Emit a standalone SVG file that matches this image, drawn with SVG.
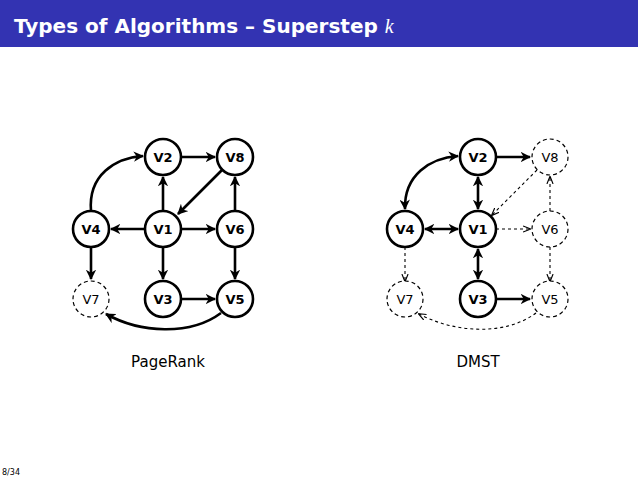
<svg xmlns="http://www.w3.org/2000/svg" width="638" height="479" viewBox="0 0 638 479">
<style>
.n circle{fill:#fff;stroke:#000;stroke-width:2.6}
.d circle{fill:#fff;stroke:#000;stroke-width:1.2;stroke-dasharray:4 3}
text{font-family:"DejaVu Sans",sans-serif}
.n text,.d text{font-size:13px;font-weight:bold;text-anchor:middle}
.d text{font-weight:normal}
.s{fill:none;stroke:#000;stroke-width:2.6;marker-end:url(#a)}
.b{marker-start:url(#as)}
.ds{fill:none;stroke:#000;stroke-width:1.1;stroke-dasharray:3 3;marker-end:url(#ad)}
</style>
<defs>
<marker id="a" viewBox="0 0 10 10" refX="9" refY="5" markerWidth="4" markerHeight="4" orient="auto" markerUnits="strokeWidth"><path d="M0,0 L10,5 L0,10 L3,5 Z"/></marker>
<marker id="as" viewBox="0 0 10 10" refX="1" refY="5" markerWidth="4" markerHeight="4" orient="auto" markerUnits="strokeWidth"><path d="M10,0 L0,5 L10,10 L7,5 Z"/></marker>
<marker id="ad" viewBox="0 0 10 10" refX="9" refY="5" markerWidth="7" markerHeight="7" orient="auto" markerUnits="strokeWidth"><path d="M0,1 L10,5 L0,9" fill="none" stroke="#000" stroke-width="1.5"/></marker>
</defs>
<rect x="0" y="0" width="638" height="47" fill="#3333b2"/>
<text x="14" y="33" fill="#fff" font-size="20" font-weight="bold">Types of Algorithms – Superstep <tspan font-family="'Liberation Serif',serif" font-style="italic" font-weight="normal">k</tspan></text>
<text x="2" y="475" font-size="8" font-family="'Liberation Serif',serif">8/34</text>
<g id="connectors">
<path class="s" d="M181,157 H215"/>
<path class="s" d="M222,170 L178,214"/>
<path class="s" d="M163,211 V177"/>
<path class="s" d="M145,229 H111"/>
<path class="s" d="M181,229 H215"/>
<path class="s" d="M163,247 V279"/>
<path class="s" d="M235,211 V177"/>
<path class="s" d="M235,247 V279"/>
<path class="s" d="M181,299 H215"/>
<path class="s" d="M91,247 V279"/>
<path class="s" d="M91,211 C88,175 115,158 143,156"/>
<path class="s" d="M221,313 C190,336 140,333 106,314"/>
<path class="s b" d="M478,177 V209"/>
<path class="s b" d="M425,229 H458"/>
<path class="s b" d="M478,249 V279"/>
<path class="s" d="M496,157 H530"/>
<path class="s" d="M496,299 H530"/>
<path class="s b" d="M458,156 C430,158 404,175 405,209"/>
<path class="ds" d="M537,170 L492,215"/>
<path class="ds" d="M496,229 H530"/>
<path class="ds" d="M550,211 V177"/>
<path class="ds" d="M550,247 V281"/>
<path class="ds" d="M405,247 V281"/>
<path class="ds" d="M536,313 C505,336 455,333 419,314"/>
</g>
<g id="V2" class="n"><circle cx="163" cy="157" r="18"/><text x="163" y="162">V2</text></g>
<g id="V8" class="n"><circle cx="235" cy="157" r="18"/><text x="235" y="162">V8</text></g>
<g id="V4" class="n"><circle cx="91" cy="229" r="18"/><text x="91" y="234">V4</text></g>
<g id="V1" class="n"><circle cx="163" cy="229" r="18"/><text x="163" y="234">V1</text></g>
<g id="V6" class="n"><circle cx="235" cy="229" r="18"/><text x="235" y="234">V6</text></g>
<g id="V7" class="d"><circle cx="91" cy="299" r="18"/><text x="91" y="304">V7</text></g>
<g id="V3" class="n"><circle cx="163" cy="299" r="18"/><text x="163" y="304">V3</text></g>
<g id="V5" class="n"><circle cx="235" cy="299" r="18"/><text x="235" y="304">V5</text></g>
<g id="D_V2" class="n"><circle cx="478" cy="157" r="18"/><text x="478" y="162">V2</text></g>
<g id="D_V8" class="d"><circle cx="550" cy="157" r="18"/><text x="550" y="162">V8</text></g>
<g id="D_V4" class="n"><circle cx="405" cy="229" r="18"/><text x="405" y="234">V4</text></g>
<g id="D_V1" class="n"><circle cx="478" cy="229" r="18"/><text x="478" y="234">V1</text></g>
<g id="D_V6" class="d"><circle cx="550" cy="229" r="18"/><text x="550" y="234">V6</text></g>
<g id="D_V7" class="d"><circle cx="405" cy="299" r="18"/><text x="405" y="304">V7</text></g>
<g id="D_V3" class="n"><circle cx="478" cy="299" r="18"/><text x="478" y="304">V3</text></g>
<g id="D_V5" class="d"><circle cx="550" cy="299" r="18"/><text x="550" y="304">V5</text></g>
<text x="168" y="367" font-size="15" text-anchor="middle">PageRank</text>
<text x="478" y="367" font-size="15" text-anchor="middle">DMST</text>
</svg>
